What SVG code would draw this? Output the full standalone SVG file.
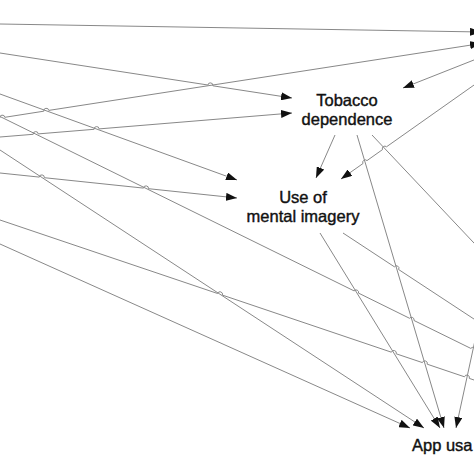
<svg xmlns="http://www.w3.org/2000/svg" width="474" height="474" viewBox="0 0 474 474">
<style>
.e{fill:none;stroke:#888;stroke-width:1}
.a{marker-end:url(#ah)}
.t{font-family:"Liberation Sans",Arial,sans-serif;font-size:16.5px;fill:#111;stroke:#111;stroke-width:0.4;text-anchor:middle}
</style>
<defs>
<marker id="ah" viewBox="0 0 11 8" markerUnits="userSpaceOnUse" markerWidth="11" markerHeight="8" refX="11" refY="4" orient="auto">
<path d="M0,0 L11,4 L0,8 z" fill="#111"/>
</marker>
</defs>
<rect width="474" height="474" fill="#fff"/>
<g id="connectors">
<path class="e a" d="M0,24 L481,32"/>
<path class="e a" d="M0,53 L207.9,85.0 A2.5,2.5 0 0 1 212.9,85.8 L292,98"/>
<path class="e a" d="M-0.2,118.0 A2.5,2.5 0 0 1 4.8,117.3 L43.8,111.2 A2.5,2.5 0 0 1 48.8,110.4 L481,43.5"/>
<path class="e a" d="M0,94 L237,180"/>
<path class="e a" d="M0,137 L33.2,134.3 A2.5,2.5 0 0 1 38.2,133.9 L94.1,129.3 A2.5,2.5 0 0 1 99.1,128.9 L292,113"/>
<path class="e" d="M0,116.5 L354.1,290.9 A2.5,2.5 0 0 1 358.5,293.1 L409.6,318.3 A2.5,2.5 0 0 1 414.0,320.5 L470.8,348.4 A2.5,2.5 0 0 1 475.2,350.6 L480,353"/>
<path class="e a" d="M0,173 L39.3,177.1 A2.5,2.5 0 0 1 44.3,177.7 L143.5,188.1 A2.5,2.5 0 0 1 148.5,188.7 L237,198"/>
<path class="e a" d="M0,150 L424,428"/>
<path class="e" d="M0,220 L217.6,293.5 A2.5,2.5 0 0 1 222.4,295.1 L391.4,352.2 A2.5,2.5 0 0 1 396.2,353.8 L422.4,362.6 A2.5,2.5 0 0 1 427.2,364.2 L464.5,376.8 A2.5,2.5 0 0 1 469.3,378.4 L482,382.7"/>
<path class="e a" d="M0,244 L410,428"/>
<path class="e a" d="M480,57.6 L403,88"/>
<path class="e a" d="M480,80.8 L386.5,146.8 A2.5,2.5 0 0 0 382.5,149.6 L367.0,160.6 A2.5,2.5 0 0 0 363.0,163.5 L341,179"/>
<path class="e a" d="M335,135 L316,178"/>
<path class="e a" d="M357,135 L444,428"/>
<path class="e" d="M372,135 L480,249.4"/>
<path class="e a" d="M320,233 L440,428"/>
<path class="e" d="M343,233 L394.4,266.8 A2.5,2.5 0 0 1 398.6,269.5 L480,323"/>
<path class="e a" d="M482,308 L456,428"/>
</g>
<g id="tobacco-dependence">
<text class="t" x="347" y="106">Tobacco</text>
<text class="t" x="347" y="124.7">dependence</text>
</g>
<g id="use-of-mental-imagery">
<text class="t" x="303" y="203">Use of</text>
<text class="t" x="303" y="221.5">mental imagery</text>
</g>
<g id="app-usage">
<text class="t" x="412" y="451" style="text-anchor:start">App usa</text>
</g>
</svg>
